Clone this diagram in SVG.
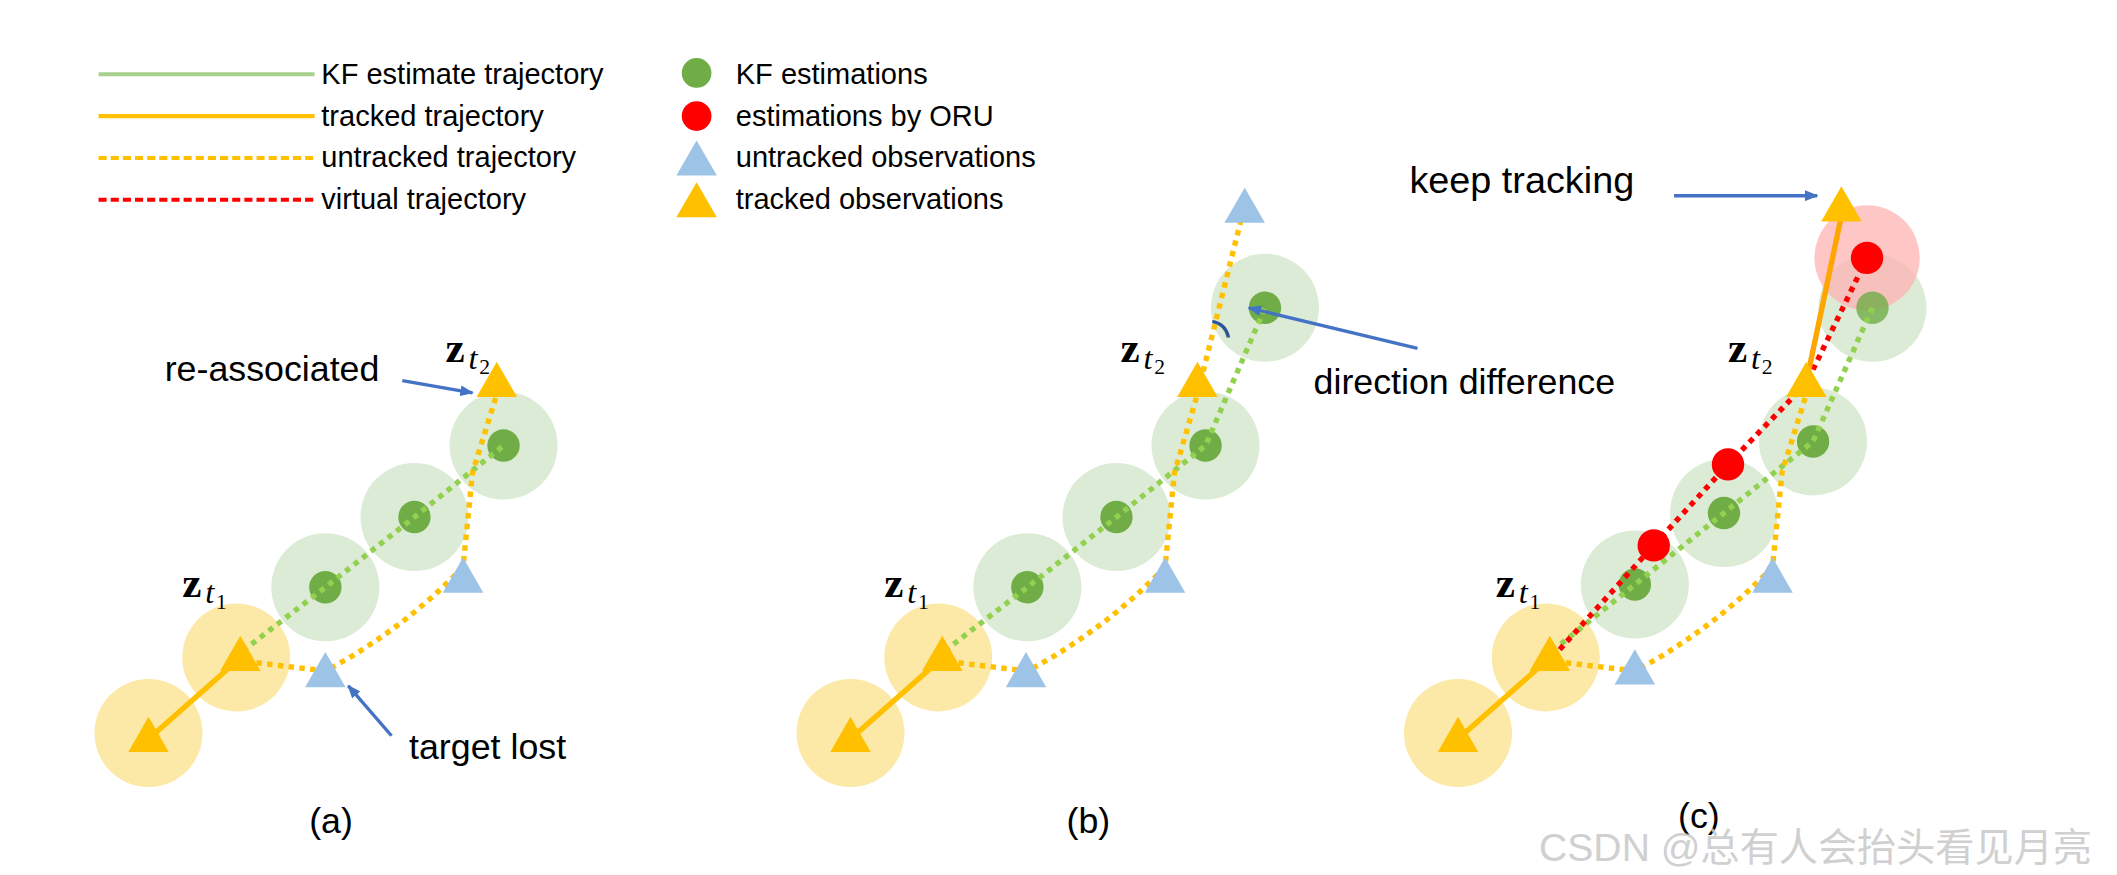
<svg xmlns="http://www.w3.org/2000/svg" width="2117" height="875" viewBox="0 0 2117 875">
<style>
text{font-family:"Liberation Sans","Noto Sans",sans-serif;fill:#000}
.lg{font-size:21.5px}
.lb{font-size:26.5px}
.z{font-family:"Liberation Serif",serif;font-size:32px;font-weight:bold}
.zs{font-family:"Liberation Serif",serif;font-size:24px;font-style:italic}
.zn{font-family:"Liberation Serif",serif;font-size:16px}
.yc{fill:#fde9a7}
.gc{fill:#dcebd5}
.pc{fill:#ffb3b3;opacity:0.75}
.gd{fill:#70ad47}
.rd{fill:#ff0000}
.gdot{stroke:#92d050;stroke-width:4;stroke-dasharray:4 4;fill:none}
.ydot{stroke:#ffc000;stroke-width:4;stroke-dasharray:4 4;fill:none}
.rdot{stroke:#ff0000;stroke-width:4;stroke-dasharray:4 4;fill:none}
.ysol{stroke:#ffc000;stroke-width:4;fill:none}
.bl{stroke:#4472c4;stroke-width:2.5;fill:none;marker-end:url(#ah)}
</style>
<defs>
<marker id="ah" markerWidth="10" markerHeight="8" refX="9" refY="4" orient="auto" markerUnits="userSpaceOnUse"><path d="M0,0L10,4L0,8Z" fill="#4472c4"/></marker>
<path id="ty" d="M0,-17L15,9L-15,9Z" fill="#ffc000"/>
<path id="tb" d="M0,-17L15,9L-15,9Z" fill="#9dc3e6"/>
</defs>
<g transform="scale(1.35)">
<g id="legend">
<line x1="73" y1="55" x2="233" y2="55" stroke="#a9d18e" stroke-width="3"/>
<line x1="73" y1="86" x2="233" y2="86" stroke="#ffc000" stroke-width="3"/>
<line x1="73" y1="117" x2="233" y2="117" stroke="#ffc000" stroke-width="3" stroke-dasharray="6 3"/>
<line x1="73" y1="148" x2="233" y2="148" stroke="#ff0000" stroke-width="3" stroke-dasharray="6 3"/>
<text class="lg" x="238" y="62">KF estimate trajectory</text>
<text class="lg" x="238" y="93">tracked trajectory</text>
<text class="lg" x="238" y="124">untracked trajectory</text>
<text class="lg" x="238" y="155">virtual trajectory</text>
<circle cx="516" cy="54" r="11" class="gd"/>
<circle cx="516" cy="86" r="11" class="rd"/>
<use href="#tb" x="516" y="121"/>
<use href="#ty" x="516" y="152"/>
<text class="lg" x="545" y="62">KF estimations</text>
<text class="lg" x="545" y="93">estimations by ORU</text>
<text class="lg" x="545" y="124">untracked observations</text>
<text class="lg" x="545" y="155">tracked observations</text>
</g>
<g id="panel-a">
<circle cx="110" cy="543" r="40" class="yc"/><circle cx="175" cy="487" r="40" class="yc"/>
<circle cx="241" cy="435" r="40" class="gc"/><circle cx="307" cy="383" r="40" class="gc"/><circle cx="373" cy="330" r="40" class="gc"/>
<circle cx="241" cy="435" r="12" class="gd"/><circle cx="307" cy="383" r="12" class="gd"/><circle cx="373" cy="330" r="12" class="gd"/>
<path class="gdot" d="M180,482L241,435L307,383L373,330"/>
<path class="ydot" d="M182,490L241,497"/>
<path class="ydot" d="M245,495Q300,465 343,420L350,350L368,292"/>
<line class="ysol" x1="175" y1="490" x2="115" y2="543"/>
<use href="#ty" x="110" y="548"/><use href="#ty" x="178" y="488"/><use href="#ty" x="368" y="285"/>
<use href="#tb" x="241" y="500"/><use href="#tb" x="343" y="430"/>
<text class="lb" x="122" y="282">re-associated</text>
<path class="bl" d="M298,282L350,291"/>
<text class="lb" x="303" y="562">target lost</text>
<path class="bl" d="M290,545L258,508"/>
<text class="z" x="135" y="442">z</text><text class="zs" x="152" y="447">t</text><text class="zn" x="160" y="451">1</text>
<text class="z" x="330" y="268">z</text><text class="zs" x="347" y="273">t</text><text class="zn" x="355" y="277">2</text>
<text class="lb" x="229" y="617">(a)</text>
</g>
<g id="panel-b">
<circle cx="630" cy="543" r="40" class="yc"/><circle cx="695" cy="487" r="40" class="yc"/>
<circle cx="761" cy="435" r="40" class="gc"/><circle cx="827" cy="383" r="40" class="gc"/><circle cx="893" cy="330" r="40" class="gc"/><circle cx="937" cy="228" r="40" class="gc"/>
<circle cx="761" cy="435" r="12" class="gd"/><circle cx="827" cy="383" r="12" class="gd"/><circle cx="893" cy="330" r="12" class="gd"/><circle cx="937" cy="228" r="12" class="gd"/>
<path class="gdot" d="M700,482L761,435L827,383L893,330L937,228"/>
<path class="ydot" d="M702,490L760,497"/>
<path class="ydot" d="M765,495Q820,465 863,420L870,350L887,292L920,160"/>
<line class="ysol" x1="695" y1="490" x2="635" y2="543"/>
<use href="#ty" x="630" y="548"/><use href="#ty" x="698" y="488"/><use href="#ty" x="887" y="285"/>
<use href="#tb" x="760" y="500"/><use href="#tb" x="863" y="430"/><use href="#tb" x="922" y="156"/>
<path d="M898,238Q908,240 910,250" stroke="#2f5597" stroke-width="2.5" fill="none"/>
<text class="lb" x="973" y="292">direction difference</text>
<path class="bl" d="M1050,258L925,228"/>
<text class="z" x="655" y="442">z</text><text class="zs" x="672" y="447">t</text><text class="zn" x="680" y="451">1</text>
<text class="z" x="830" y="268">z</text><text class="zs" x="847" y="273">t</text><text class="zn" x="855" y="277">2</text>
<text class="lb" x="790" y="617">(b)</text>
</g>
<g id="panel-c">
<circle cx="1080" cy="543" r="40" class="yc"/><circle cx="1145" cy="487" r="40" class="yc"/>
<circle cx="1211" cy="433" r="40" class="gc"/><circle cx="1277" cy="380" r="40" class="gc"/><circle cx="1343" cy="327" r="40" class="gc"/><circle cx="1387" cy="228" r="40" class="gc"/>
<circle cx="1383" cy="191" r="39" class="pc"/>
<circle cx="1211" cy="433" r="12" class="gd"/><circle cx="1277" cy="380" r="12" class="gd"/><circle cx="1343" cy="327" r="12" class="gd"/><circle cx="1387" cy="228" r="12" class="gd" opacity="0.8"/>
<path class="gdot" d="M1150,482L1211,433L1277,380L1343,327L1387,228"/>
<path class="ydot" d="M1152,490L1211,497"/>
<path class="ydot" d="M1215,495Q1270,465 1313,420L1320,350L1338,292"/>
<path class="rdot" d="M1150,487L1225,404L1280,344L1338,284L1383,191"/>
<line class="ysol" x1="1145" y1="490" x2="1085" y2="543"/>
<line x1="1338" y1="283" x2="1364" y2="160" stroke="#ffa500" stroke-width="4"/>
<circle cx="1225" cy="404" r="12" class="rd"/><circle cx="1280" cy="344" r="12" class="rd"/><circle cx="1383" cy="191" r="12" class="rd"/>
<use href="#ty" x="1080" y="548"/><use href="#ty" x="1148" y="488"/><use href="#ty" x="1338" y="285"/><use href="#ty" x="1364" y="155"/>
<use href="#tb" x="1211" y="498"/><use href="#tb" x="1313" y="430"/>
<text class="lb" x="1044" y="143" style="font-size:28px">keep tracking</text>
<path class="bl" d="M1240,145L1346,145"/>
<text class="z" x="1108" y="442">z</text><text class="zs" x="1125" y="447">t</text><text class="zn" x="1133" y="451">1</text>
<text class="z" x="1280" y="268">z</text><text class="zs" x="1297" y="273">t</text><text class="zn" x="1305" y="277">2</text>
<text class="lb" x="1243" y="613">(c)</text>
<text x="1140" y="638" style="font-size:29px;fill:#c8c8c8;opacity:0.85;font-family:'Liberation Sans','Noto Sans CJK SC',sans-serif">CSDN @总有人会抬头看见月亮</text>
</g>
</g>
</svg>
